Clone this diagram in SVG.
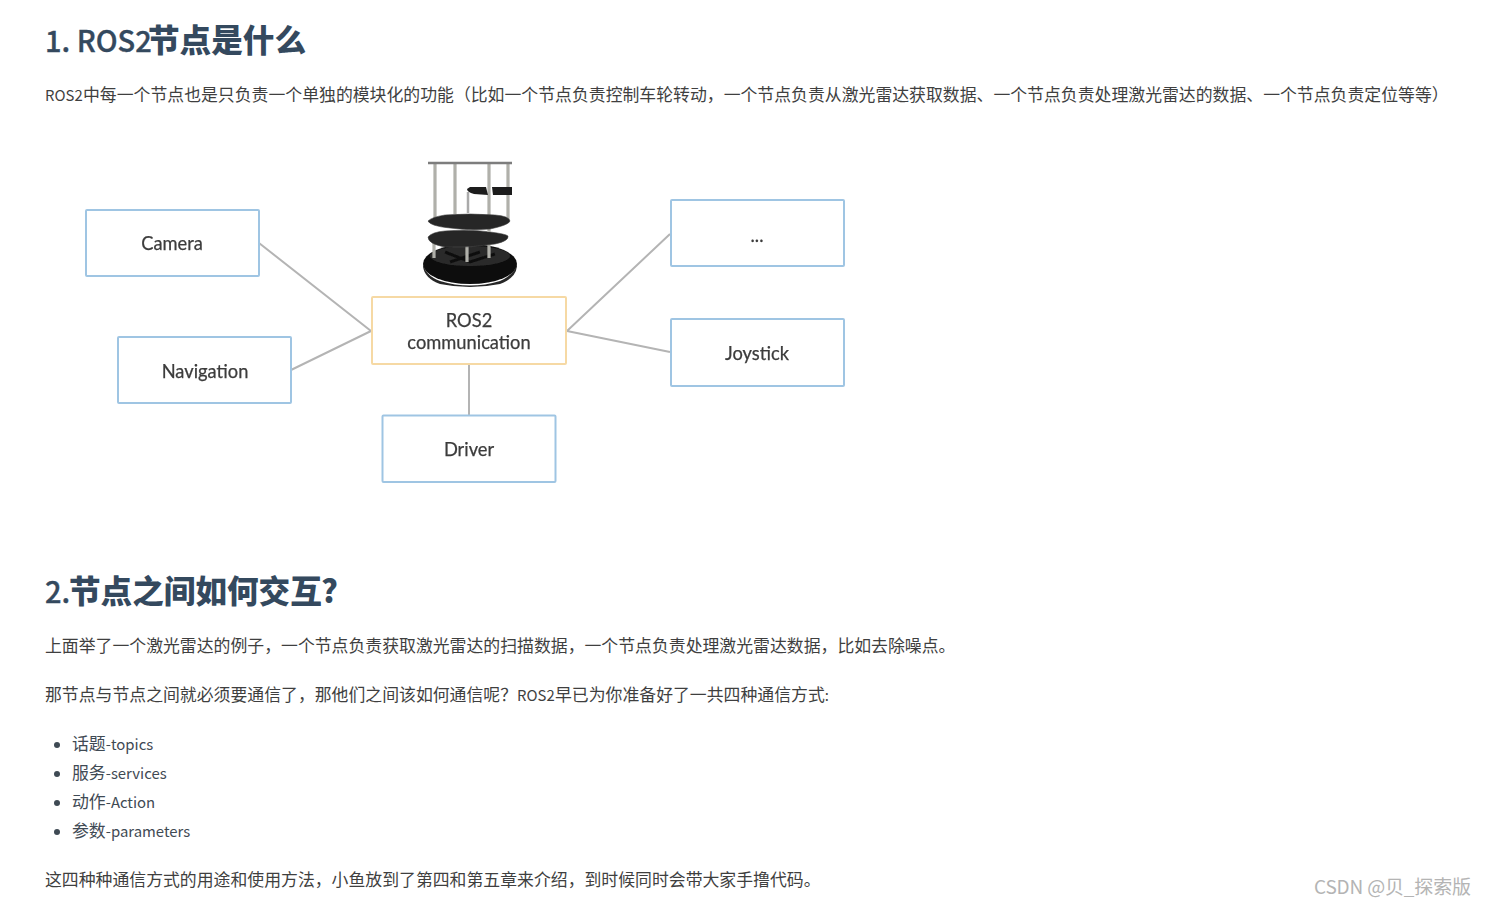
<svg xmlns="http://www.w3.org/2000/svg" width="1486" height="906" viewBox="0 0 1486 906">
<defs><filter id="soft" x="-5%" y="-5%" width="110%" height="110%"><feGaussianBlur stdDeviation="0.45"/></filter></defs>
<style>
text{font-family:"Noto Sans CJK SC","Noto Sans",sans-serif}
.h{font-size:29px;font-weight:500;fill:#34495e;stroke:#34495e;stroke-width:.35}
.hc{font-size:31.6px;font-weight:900;fill:#34495e}
.b{font-size:16.87px;fill:#3f3f3f}
.l{font-size:14.9px}
.li{font-size:16.87px;fill:#3f4a54}
.n{font-family:Lato,"Noto Sans",sans-serif;font-size:18.3px;fill:#3c3c3c;text-anchor:middle;stroke:#3c3c3c;stroke-width:.25}
.box{fill:#fff;stroke:#9fc5e3;stroke-width:2}
.c{stroke:#b4b4b4;stroke-width:2;fill:none}
.rod{stroke:#b0b0aa;stroke-width:3.2;fill:none}
.pl{fill:#252525;stroke:#444;stroke-width:.6}
</style>
<rect width="1486" height="906" fill="#fff"/>
<text x="45" y="52"><tspan class="h">1. ROS2</tspan><tspan class="hc" x="148">节点是什么</tspan></text>
<text class="b" x="45" y="101"><tspan class="l">ROS2</tspan><tspan x="83">中每一个节点也是只负责一个单独的模块化的功能（比如一个节点负责控制车轮转动，一个节点负责从激光雷达获取数据、一个节点负责处理激光雷达的数据、一个节点负责定位等等）</tspan></text>
<g filter="url(#soft)">
<g id="connectors">
<path class="c" d="M259 243L371 331M291 370L371 331M567 331L670 234M567 331L670 352M469 364V415"/>
</g>
<g id="camera"><rect class="box" x="86" y="210" width="173" height="66" rx="1"/><text class="n" x="172" y="249.5">Camera</text></g>
<g id="navigation"><rect class="box" x="118" y="337" width="173" height="66" rx="1"/><text class="n" x="205" y="377.5">Navigation</text></g>
<g id="ros2"><rect x="372" y="297" width="194" height="67" rx="1" fill="#fff" stroke="#f6d9a4" stroke-width="2"/><text class="n" x="469" y="326.5">ROS2</text><text class="n" x="469" y="349">communication</text></g>
<g id="driver"><rect class="box" x="382.500" y="415.500" width="173" height="66.500" rx="1"/><text class="n" x="469" y="456">Driver</text></g>
<g id="dots"><rect class="box" x="671" y="200" width="173" height="66" rx="1"/><text class="n" x="757" y="242">...</text></g>
<g id="joystick"><rect class="box" x="671" y="319" width="173" height="67" rx="1"/><text class="n" x="757" y="359.5">Joystick</text></g>
<g id="robot">
<ellipse cx="470" cy="264" rx="47" ry="20" fill="#101010"/>
<path d="M423 262Q424 275 440 281Q470 290 500 281Q516 274 517 262L517 266Q516 278 500 284Q470 290 440 284Q424 278 423 266Z" fill="#262626"/>
<ellipse cx="470" cy="256" rx="40" ry="10" fill="#2c2c2c"/>
<path d="M445 252L470 262L495 254M450 262L480 252" stroke="#111" stroke-width="3" fill="none"/>
<path class="rod" d="M434 243V258M467 245V262M489 243V258"/>
<path class="pl" d="M428 237Q432 232 445 231Q470 229 490 232Q506 234 508 236Q509 241 495 244Q470 248 445 247Q428 244 428 237Z"/>
<path class="rod" d="M435 163V222M455 163V214M489 163V232M508 163V222"/>
<path d="M428 163H512" stroke="#7d7d7d" stroke-width="2.6"/>
<path d="M468 213V192" stroke="#aaa" stroke-width="2.5" fill="none"/>
<path d="M470 187H486L488 195L474 194Q467 192 467 189Z" fill="#1e1e1e"/>
<path d="M492 187H512V195H493Z" fill="#1e1e1e"/>
<path class="pl" d="M428 221Q432 217 445 215Q470 213 495 215Q509 216 510 221Q509 225 490 229Q470 231 450 228Q430 226 428 221Z"/>
</g>
</g>
<text x="45" y="603"><tspan class="h">2.</tspan><tspan class="hc" x="69">节点之间如何交互</tspan><tspan class="hc" x="321" font-size="29">?</tspan></text>
<text class="b" x="45" y="652">上面举了一个激光雷达的例子，一个节点负责获取激光雷达的扫描数据，一个节点负责处理激光雷达数据，比如去除噪点。</text>
<text class="b" x="45" y="701">那节点与节点之间就必须要通信了，那他们之间该如何通信呢？<tspan class="l" x="517">ROS2</tspan><tspan x="555">早已为你准备好了一共四种通信方式</tspan><tspan class="l">:</tspan></text>
<g fill="#3f4a54"><circle cx="57" cy="745" r="3"/><circle cx="57" cy="774" r="3"/><circle cx="57" cy="803" r="3"/><circle cx="57" cy="832" r="3"/></g>
<text class="li" x="72" y="750">话题<tspan class="l">-topics</tspan></text>
<text class="li" x="72" y="779">服务<tspan class="l">-services</tspan></text>
<text class="li" x="72" y="808">动作<tspan class="l">-Action</tspan></text>
<text class="li" x="72" y="837">参数<tspan class="l">-parameters</tspan></text>
<text class="b" x="45" y="886">这四种种通信方式的用途和使用方法，小鱼放到了第四和第五章来介绍，到时候同时会带大家手撸代码。</text>
<text x="1314" y="894" font-size="19" fill="#b4b4b4" textLength="157">CSDN @贝_探索版</text>
</svg>
